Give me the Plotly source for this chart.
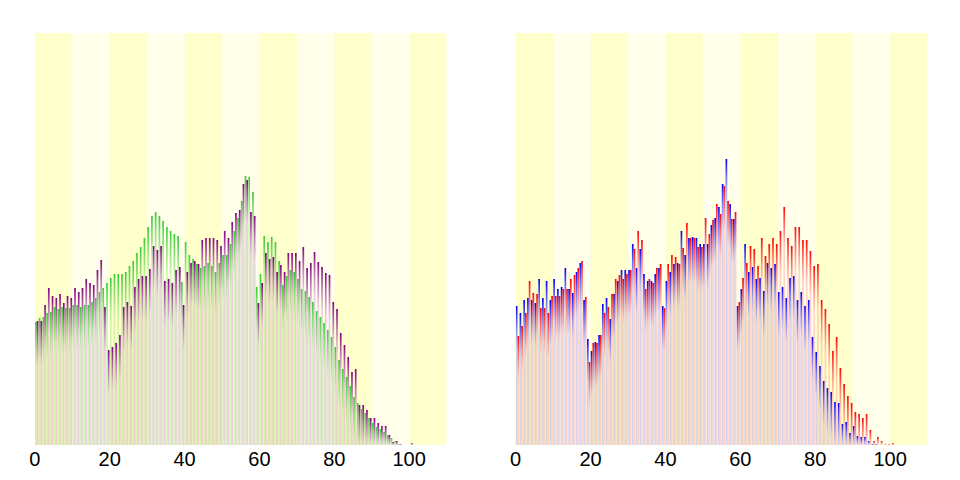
import plotly.graph_objects as go

ages = list(range(101))
left_green = [123,127,128,132,133,138,136,138,137,137,140,140,138,140,140,143,147,153,157,162,
              167,171,171,171,173,179,184,192,198,207,218,229,233,229,224,218,214,211,209,
              163,203,190,186,181,177,179,182,179,173,182,190,190,201,214,227,244,269,268,253,
              158,171,209,203,208,203,
              184,160,169,175,173,166,156,154,148,143,134,128,122,115,108,98,85,76,68,59,48,42,36,32,27,22,18,16,13,10,7,4,1,
              0,0,0]
left_purple = [124,124,140,157,149,147,151,142,149,147,157,153,157,166,162,160,175,185,138,95,
               98,102,110,138,143,139,158,166,169,169,176,199,195,199,164,166,162,175,178,
               140,173,182,184,181,205,207,207,207,205,199,214,207,223,232,235,261,265,233,229,
               142,162,192,186,188,173,
               180,173,192,192,192,184,198,177,182,193,183,178,172,170,143,136,112,100,88,73,76,40,40,35,27,27,22,19,19,10,3,4,1,
               0,0,2]
right_blue = [139,132,145,147,145,142,166,147,164,145,166,156,158,177,156,152,173,182,145,106,
              94,103,110,141,147,126,151,164,175,175,175,201,177,196,171,164,164,171,177,139,
              164,173,181,182,214,190,207,208,207,201,201,201,220,227,238,261,286,241,226,
              139,156,201,173,178,166,167,154,182,177,181,153,158,147,167,169,145,153,139,145,
              108,93,79,64,57,53,43,42,21,23,12,19,9,8,8,4,1,1,0,0,0,0]
right_red = [109,119,132,164,152,151,137,137,132,149,149,149,156,156,166,170,177,184,148,83,
             102,102,110,132,138,151,166,170,166,171,175,196,214,205,156,166,162,177,181,137,
             181,190,188,181,197,222,207,207,198,198,227,211,225,241,231,259,244,226,233,
             143,167,182,199,196,179,207,189,201,207,201,214,238,207,199,218,218,205,205,194,
             179,181,145,136,121,94,108,77,61,49,42,33,31,27,31,15,4,8,4,1,1,2]
x_ticks = [0, 20, 40, 60, 80, 100]

fig = go.Figure()

def add_bars(vals, offset, color, pale, xa, ya):
    for a, h in zip(ages, vals):
        if h <= 0:
            continue
        x0 = a + offset
        x1 = x0 + 0.45
        s = max(0.0, 1 - 45.0 / h)
        cs = [[0, pale], [s, pale], [1, color]] if s > 0 else [[0, pale], [1, color]]
        fig.add_trace(go.Scatter(
            x=[x0, x0, x1, x1, x0], y=[0, h, h, 0, 0], mode="lines",
            fill="toself", line=dict(width=0),
            fillgradient=dict(type="vertical", colorscale=cs, start=0, stop=h),
            xaxis=xa, yaxis=ya, hoverinfo="skip", showlegend=False))

add_bars(left_green, 0.05, "rgb(50,205,50)", "rgba(150,220,120,0.4)", "x", "y")
add_bars(left_purple, 0.5, "rgb(128,0,128)", "rgba(210,150,210,0.45)", "x", "y")
add_bars(right_blue, 0.05, "rgb(0,0,255)", "rgba(160,160,255,0.45)", "x2", "y2")
add_bars(right_red, 0.5, "rgb(255,0,0)", "rgba(255,160,160,0.45)", "x2", "y2")

shapes = []
for xr, yr in (("x", "y"), ("x2", "y2")):
    for i in range(11):
        shapes.append(dict(type="rect", xref=xr, yref=yr, x0=i * 10, x1=i * 10 + 10, y0=0, y1=412,
                           fillcolor="#ffffcc" if i % 2 == 0 else "#ffffea", line=dict(width=0), layer="below"))

axis_common = dict(range=[0, 110], tickvals=x_ticks, showgrid=False, zeroline=False, ticks="",
                   showline=False, tickfont=dict(family="Liberation Sans, Arial", size=20, color="black"))
yax = dict(range=[0, 412], visible=False, showgrid=False, zeroline=False)
fig.update_layout(
    width=960, height=480, margin=dict(l=0, r=0, t=0, b=0),
    paper_bgcolor="white", plot_bgcolor="white", shapes=shapes,
    xaxis=dict(domain=[21 / 960, 435.3 / 960], anchor="y", **axis_common),
    xaxis2=dict(domain=[504.8 / 960, 919.3 / 960], anchor="y2", **axis_common),
    yaxis=dict(domain=[43 / 480, 455 / 480], anchor="x", **yax),
    yaxis2=dict(domain=[43 / 480, 455 / 480], anchor="x2", **yax),
)
fig.write_html("out.html")
